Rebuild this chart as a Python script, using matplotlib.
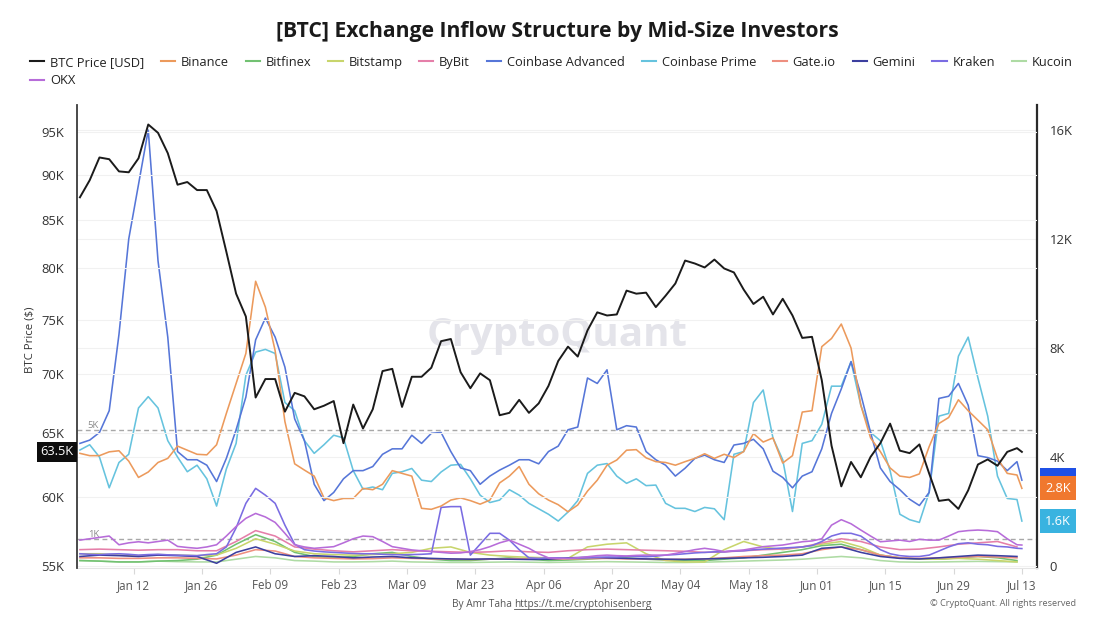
import numpy as np
import pandas as pd
import matplotlib
matplotlib.use('Agg')
import matplotlib.pyplot as plt
import matplotlib.dates as mdates
from matplotlib.ticker import FixedLocator, FuncFormatter, NullLocator
from matplotlib.lines import Line2D
from matplotlib.patches import Rectangle

plt.rcParams['font.family'] = ['Open Sans', 'DejaVu Sans']

# ---------------- data ----------------
dates_main = pd.date_range('2026-01-01', '2026-07-12', freq='2D').append(pd.DatetimeIndex(['2026-07-13']))
dates_minor = pd.date_range('2026-01-01', '2026-07-12', freq='4D')

btc_price_k = [87.5, 89.4, 92.0, 91.8, 90.4, 90.3, 91.9, 95.9, 94.9, 92.5,
               88.9, 89.2, 88.3, 88.3, 86.0, 81.7, 77.5, 75.3, 68.0, 69.6,
               69.6, 66.8, 68.4, 68.1, 67.0, 67.3, 67.7, 64.2, 67.4, 65.4,
               67.0, 70.3, 70.5, 67.2, 69.8, 69.8, 70.6, 73.0, 73.2, 70.2,
               68.8, 70.1, 69.5, 66.5, 66.7, 67.8, 66.7, 67.5, 69.0, 71.2,
               72.5, 71.6, 74.0, 75.7, 75.4, 75.5, 77.8, 77.5, 77.6, 76.2,
               77.3, 78.5, 80.8, 80.5, 80.1, 80.9, 80.0, 79.6, 77.9, 76.5,
               77.2, 75.5, 77.0, 75.4, 73.3, 73.4, 69.5, 64.0, 60.8, 62.7,
               61.5, 63.1, 64.2, 65.8, 63.6, 63.4, 64.1, 61.8, 59.7, 59.8,
               59.1, 60.5, 62.5, 62.9, 62.4, 63.5, 63.8, 63.5]

binance = [4135, 4050, 4050, 4190, 4230, 3850, 3250, 3450, 3800, 3950,
           4400, 4250, 4100, 4080, 4450, 5600, 6700, 7800, 10450, 9500,
           7900, 5300, 3750, 3520, 3300, 2500, 2400, 2480, 2480, 2850,
           2800, 3000, 3500, 3400, 3300, 2117, 2080, 2200, 2420, 2500,
           2400, 2270, 2420, 3050, 3300, 3650, 3000, 2650, 2420, 2250,
           1990, 2240, 2750, 3150, 3700, 3890, 4250, 4270, 3970, 3830,
           3800, 3700, 3830, 3950, 4120, 3950, 4100, 3980, 4200, 4860,
           4550, 4700, 3780, 4050, 5650, 5700, 8050, 8350, 8880, 8000,
           5900, 4700, 4200, 3600, 3300, 3250, 3380, 4380, 5230, 5450,
           6100, 5700, 5350, 5000, 3950, 3400, 3340, 2850]

coinbase_advanced = [4500, 4620, 4900, 5700, 8500, 12000, 14000, 16000, 11200, 8400,
                     4200, 3900, 3900, 3700, 3100, 3950, 5000, 6200, 8300, 9100,
                     8400, 7300, 5400, 4600, 3000, 2400, 2700, 3200, 3500, 3500,
                     3650, 4100, 4300, 4300, 4800, 4500, 4870, 4900, 4200, 3600,
                     3500, 3000, 3300, 3520, 3700, 3900, 3900, 3750, 4200, 4400,
                     5000, 5100, 6900, 6700, 7200, 5000, 5150, 5100, 4200, 3900,
                     3700, 3300, 3590, 3950, 4070, 3900, 3800, 4440, 4500, 4650,
                     4300, 3480, 3250, 2870, 3300, 3460, 4300, 5600, 6500, 7500,
                     6300, 4900, 3600, 3100, 2800, 2450, 2220, 2700, 6150, 6230,
                     6700, 5900, 4050, 3980, 3850, 3500, 3830, 3150]

coinbase_prime = [4257, 4450, 4000, 2870, 3800, 4100, 5800, 6215, 5800, 4600,
                  4000, 3460, 3700, 3200, 2200, 3560, 4500, 7000, 7850, 7950,
                  7800, 6000, 5700, 4600, 4135, 4450, 4800, 4700, 3500, 2820,
                  2900, 2800, 3400, 3460, 3580, 3150, 3100, 3450, 3700, 3730,
                  3200, 2600, 2330, 2420, 2800, 2600, 2300, 2100, 1900, 1650,
                  1980, 2400, 3400, 3700, 3760, 3300, 3034, 3200, 2950, 2970,
                  2300, 2117, 2117, 2000, 2150, 2100, 1700, 4100, 4200, 6000,
                  6460, 4700, 3900, 2000, 4500, 4600, 5200, 6600, 6600, 7500,
                  5900, 4900, 4600, 3500, 1900, 1700, 1600, 2700, 5500, 5600,
                  7700, 8400, 6900, 5500, 3300, 2480, 2440, 1650]

kraken = [450, 430, 420, 440, 450, 430, 400, 420, 430, 410,
          400, 390, 380, 420, 450, 700, 1400, 2300, 2850, 2600,
          2300, 1500, 800, 600, 550, 520, 500, 480, 460, 450,
          450, 430, 420, 410, 420, 430, 450, 2150, 2180, 2180,
          400, 800, 1200, 1200, 950, 600, 300, 280, 300,
          300, 280, 290, 300, 320, 330, 330, 350, 350, 340,
          360, 400, 420, 450, 480, 500, 520, 520, 550, 560,
          600, 620, 640, 660, 680, 700, 750, 900, 1100, 1200,
          1200, 1100, 850, 600, 450, 380, 350, 350, 400, 550,
          700, 820, 850, 800, 780, 720, 700, 650, 640]

okx = [950, 1000, 1050, 1100, 780, 850, 890, 850, 900, 950,
       720, 680, 650, 700, 780, 1100, 1450, 1750, 1930, 1800,
       1600, 1200, 780, 700, 650, 680, 710, 850, 1000, 1100,
       1076, 900, 710, 650, 590, 560, 530, 500, 470, 480,
       530, 600, 710, 850, 950, 800, 650, 450, 300,
       280, 280, 300, 340, 380, 400, 380, 370, 390, 400,
       400, 400, 460, 530, 600, 650, 600, 530, 560, 590,
       650, 710, 740, 770, 830, 890, 920, 1000, 1500, 1700,
       1550, 1320, 1100, 890, 920, 950, 900, 980, 950, 950,
       1100, 1260, 1300, 1320, 1300, 1260, 1000, 780, 770]

bybit = [600, 620, 600, 580, 600, 600, 560, 560, 900, 1300,
         1100, 700, 620, 560, 520, 560, 600, 560, 540, 520,
         500, 520, 560, 520, 500, 560, 600, 620, 600, 580,
         560, 540, 500, 520, 560, 600, 620, 700, 850, 1000,
         900, 700, 600, 620, 700, 800, 850, 900, 700]

gate_io = [300, 300, 280, 280, 300, 300, 280, 260, 400, 600,
           550, 350, 300, 280, 260, 270, 300, 280, 260, 250,
           240, 250, 270, 260, 250, 260, 270, 280, 260, 250,
           240, 250, 260, 300, 350, 380, 400, 450, 600, 700,
           600, 400, 300, 280, 300, 320, 350, 330, 300]

gemini = [350, 400, 380, 350, 400, 380, 350, 100, 500, 700,
          450, 350, 380, 350, 300, 330, 350, 300, 280, 260,
          250, 260, 250, 240, 250, 300, 320, 300, 280, 260,
          250, 240, 260, 280, 300, 320, 350, 400, 650, 700,
          500, 350, 280, 260, 300, 350, 400, 380, 350]

bitfinex = [200, 180, 150, 150, 180, 200, 250, 400, 800, 1150,
            900, 500, 350, 300, 350, 450, 500, 350, 250, 200,
            200, 250, 300, 250, 200, 220, 250, 300, 300, 250,
            220, 200, 200, 250, 300, 400, 500, 600, 750, 800,
            600, 400, 300, 250, 250, 300, 350, 300, 200]

bitstamp = [450, 450, 400, 380, 420, 400, 380, 400, 650, 1000,
            800, 550, 450, 420, 400, 420, 450, 500, 650, 700,
            500, 400, 350, 320, 300, 280, 700, 800, 850, 450,
            200, 150, 150, 600, 900, 700, 600, 700, 800, 900,
            700, 400, 300, 250, 250, 280, 250, 200, 150]

kucoin = [200, 180, 150, 150, 180, 160, 150, 150, 250, 350,
          300, 200, 180, 150, 150, 160, 180, 150, 140, 130,
          130, 140, 150, 140, 130, 140, 150, 160, 150, 140,
          130, 130, 140, 160, 180, 200, 220, 250, 300, 350,
          300, 200, 150, 140, 150, 160, 170, 160, 150]

legend_order = ['BTC Price [USD]', 'Binance', 'Bitfinex', 'Bitstamp', 'ByBit',
                'Coinbase Advanced', 'Coinbase Prime', 'Gate.io', 'Gemini',
                'Kraken', 'Kucoin', 'OKX']
xtick_dates = ['2026-01-12', '2026-01-26', '2026-02-09', '2026-02-23', '2026-03-09',
               '2026-03-23', '2026-04-06', '2026-04-20', '2026-05-04', '2026-05-18',
               '2026-06-01', '2026-06-15', '2026-06-29', '2026-07-13']
left_ticks = [55000, 60000, 65000, 70000, 75000, 80000, 85000, 90000, 95000]
right_ticks = [0, 4000, 8000, 12000, 16000]
ref_levels = [5000, 1000]
last_price = 63500

# ---------------- styling ----------------
colors = {
    'BTC Price [USD]': '#1b1b1b', 'Binance': '#ec9a5c', 'Bitfinex': '#72c172',
    'Bitstamp': '#c8d56c', 'ByBit': '#e57fa9', 'Coinbase Advanced': '#5676d8',
    'Coinbase Prime': '#66c3de', 'Gate.io': '#ee8f80', 'Gemini': '#3c3f9f',
    'Kraken': '#7a6ce2', 'Kucoin': '#aedba4', 'OKX': '#b76cd9',
}

W, H = 1114, 629
fig = plt.figure(figsize=(W / 100, H / 100), dpi=100)
fig.patch.set_facecolor('white')
L, R, T, B = 77, 1037, 105, 568
ax2 = fig.add_axes([L / W, 1 - B / H, (R - L) / W, (B - T) / H])
ax = ax2.twinx()
ax.yaxis.tick_left()
ax.yaxis.set_label_position('left')
ax2.yaxis.tick_right()
ax.set_zorder(ax2.get_zorder() + 1)
ax.patch.set_visible(False)

# minor exchanges
series_minor = [('Kucoin', kucoin), ('Bitfinex', bitfinex), ('Bitstamp', bitstamp),
                ('Gate.io', gate_io), ('ByBit', bybit), ('Gemini', gemini)]
for name, vals in series_minor:
    ax2.plot(dates_minor, vals, color=colors[name], lw=1.15, zorder=3)
ax2.plot(dates_main, kraken, color=colors['Kraken'], lw=1.15, zorder=3)
ax2.plot(dates_main, okx, color=colors['OKX'], lw=1.15, zorder=3)
ax2.plot(dates_main, coinbase_prime, color=colors['Coinbase Prime'], lw=1.15, zorder=4)
ax2.plot(dates_main, coinbase_advanced, color=colors['Coinbase Advanced'], lw=1.15, zorder=4)
ax2.plot(dates_main, binance, color=colors['Binance'], lw=1.15, zorder=4)

ax.plot(dates_main, np.array(btc_price_k) * 1000, color=colors['BTC Price [USD]'], lw=1.4, zorder=5)

# scales
ax.set_yscale('log')
ax.set_ylim(54862, 98285)
ax2.set_ylim(-73, 16919)
x0 = mdates.date2num(pd.Timestamp('2026-01-01'))
ax2.set_xlim(x0 - 0.6, x0 + 196.1)

ax.yaxis.set_major_locator(FixedLocator(left_ticks))
ax.yaxis.set_minor_locator(NullLocator())
ax.yaxis.set_major_formatter(FuncFormatter(lambda v, p: f'{v / 1000:.0f}K'))
ax2.yaxis.set_major_locator(FixedLocator(right_ticks))
ax2.yaxis.set_major_formatter(FuncFormatter(lambda v, p: '0' if v == 0 else f'{v / 1000:.0f}K'))
ax2.set_xticks(pd.to_datetime(xtick_dates))
ax2.xaxis.set_major_formatter(mdates.DateFormatter('%b %d'))

ax.tick_params(axis='y', length=0, pad=9, labelsize=9.4, labelcolor='#333333')
ax2.tick_params(axis='y', length=0, pad=9, labelsize=9.4, labelcolor='#333333')
ax2.tick_params(axis='x', length=4, width=0.8, color='#d8d8d8', pad=4, labelsize=8.4, labelcolor='#555555')

# grid
for v in left_ticks:
    ax.axhline(v, color='#f1f1f1', lw=0.8, zorder=0)
for v in right_ticks[1:]:
    ax2.axhline(v, color='#f1f1f1', lw=0.8, zorder=0)

# spines
for a in (ax, ax2):
    for s in ('top', 'left', 'right', 'bottom'):
        a.spines[s].set_visible(False)
ax.spines['left'].set_visible(True)
ax.spines['left'].set_color('#3c3c3c')
ax.spines['left'].set_linewidth(1.3)
ax2.spines['right'].set_visible(True)
ax2.spines['right'].set_color('#2a2a2a')
ax2.spines['right'].set_linewidth(1.6)
ax2.spines['bottom'].set_visible(True)
ax2.spines['bottom'].set_color('#e4e4e4')
ax2.spines['bottom'].set_linewidth(0.8)

# reference dashed lines
for lvl in ref_levels:
    ax2.axhline(lvl, color='#a8a8a8', lw=1.0, ls=(0, (3.5, 2.5)), zorder=2)
    ax2.text(x0 + 1.6, lvl, f'{lvl // 1000}K', color='#8a8a8a', fontsize=6.8,
             va='bottom', ha='left', zorder=2)

# watermark
ax2.text(0.5, 0.503, 'CryptoQuant', transform=ax2.transAxes, ha='center', va='center',
         fontsize=29, fontweight='bold', color='#e4e4ea', zorder=1)

# left price badge
ax.text(-0.0035, last_price, f'{last_price / 1000:.1f}K', transform=ax.get_yaxis_transform(),
        ha='right', va='center', color='white', fontsize=9.2,
        bbox=dict(boxstyle='square,pad=0.3', fc='#0d0d0d', ec='none'), clip_on=False)

# right last-value badges: fixed-size boxes, later ones drawn on top
badges = [(coinbase_advanced[-1], '#1f50e6', False),
          (binance[-1], '#f0782e', True),
          (coinbase_prime[-1], '#39b3e0', True)]
for k, (val, col, show_text) in enumerate(badges):
    yb = ax2.transData.transform((0, val))[1]
    fig.add_artist(Rectangle(((R + 3) / W, (yb - 12) / H), 36 / W, 24 / H,
                             transform=fig.transFigure, fc=col, ec='none', zorder=-3 + k))
    if show_text:
        fig.text((R + 3 + 18) / W, yb / H, f'{int(val // 100) / 10:.1f}K', ha='center', va='center',
                 color='white', fontsize=9.2, zorder=5)

# labels and title
fig.text(30 / W, 1 - 340 / H, 'BTC Price ($)', rotation=90, ha='center', va='center',
         fontsize=8.2, color='#333333')
fig.text(0.5, 1 - 32 / H, '[BTC] Exchange Inflow Structure by Mid-Size Investors',
         ha='center', va='center', fontsize=15.2, fontweight='bold', color='#1a1a1a')

# legend (row-major arrangement: first column holds BTC and OKX)
handles = [Line2D([], [], color=colors[n], lw=1.5) for n in legend_order]
order = [0, 11] + list(range(1, 11))
leg = fig.legend([handles[i] for i in order], [legend_order[i] for i in order],
                 loc='upper left', bbox_to_anchor=(30 / W, 1 - 56 / H), ncol=11,
                 frameon=False, fontsize=9.3, handlelength=1.1, handletextpad=0.45,
                 columnspacing=1.3, labelspacing=0.4, borderaxespad=0, borderpad=0)
for t in leg.get_texts():
    t.set_color('#222222')

# footer
t1 = fig.text(514 / W, 1 - 604 / H, 'By Amr Taha ', ha='right', va='center', fontsize=7.3, color='#555555')
t2 = fig.text(514 / W, 1 - 604 / H, 'https://t.me/cryptohisenberg', ha='left', va='center',
              fontsize=7.3, color='#555555')
fig.text(1076 / W, 1 - 604 / H, '\u00a9 CryptoQuant. All rights reserved', ha='right', va='center',
         fontsize=6.6, color='#666666')
fig.canvas.draw()
bb = t2.get_window_extent()
fig.add_artist(Line2D([bb.x0 / W, bb.x1 / W], [(bb.y0 + 0.5) / H, (bb.y0 + 0.5) / H],
                      color='#555555', lw=0.6, transform=fig.transFigure))

fig.savefig('out.png', dpi=100, facecolor='white')
